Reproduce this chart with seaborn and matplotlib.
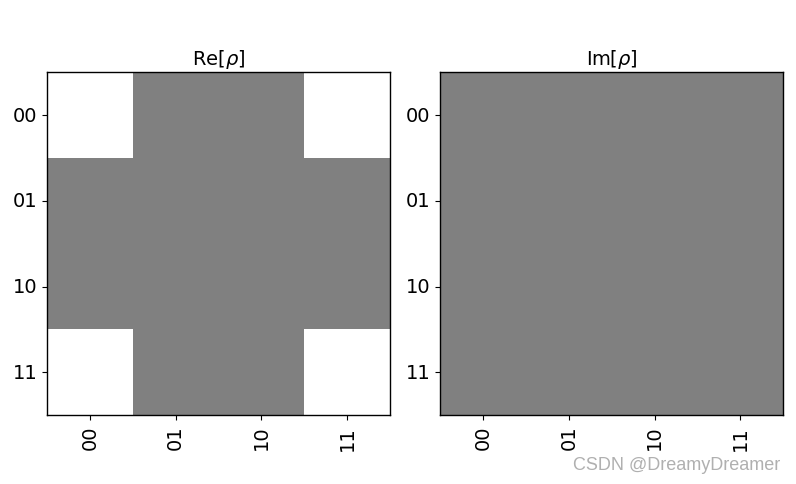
import numpy as np
import matplotlib
matplotlib.use("Agg")
import matplotlib.pyplot as plt
import seaborn as sns

labels = ["00", "01", "10", "11"]
# density matrix of the Bell state (|00> + |11>)/sqrt(2)
rho_re = np.array([[0.5, 0.0, 0.0, 0.5],
                   [0.0, 0.0, 0.0, 0.0],
                   [0.0, 0.0, 0.0, 0.0],
                   [0.5, 0.0, 0.0, 0.5]])
rho_im = np.zeros((4, 4))

fig = plt.figure(figsize=(7.96, 4.85), dpi=100)
ax1 = fig.add_axes([0.059, 0.142, 0.431, 0.707])
ax2 = fig.add_axes([0.553, 0.142, 0.431, 0.707])

for ax, data, title in [(ax1, rho_re, r"Re[$\rho$]"), (ax2, rho_im, r"Im[$\rho$]")]:
    sns.heatmap(data, ax=ax, cmap="gray", vmin=-0.5, vmax=0.5, cbar=False,
                xticklabels=labels, yticklabels=labels)
    for s in ax.spines.values():
        s.set_visible(True)
        s.set_linewidth(1.0)
    ax.tick_params(axis="both", labelsize=14, length=3.5, width=0.8)
    ax.set_xticklabels(labels, rotation=90)
    ax.set_yticklabels(labels, rotation=0)
    ax.set_title(title, fontsize=14)

fig.text(0.98, 0.022, "CSDN @DreamyDreamer", ha="right", va="bottom",
         fontsize=13, color="#b0b0b0", family="Liberation Sans")

fig.savefig("out.png", dpi=100)
